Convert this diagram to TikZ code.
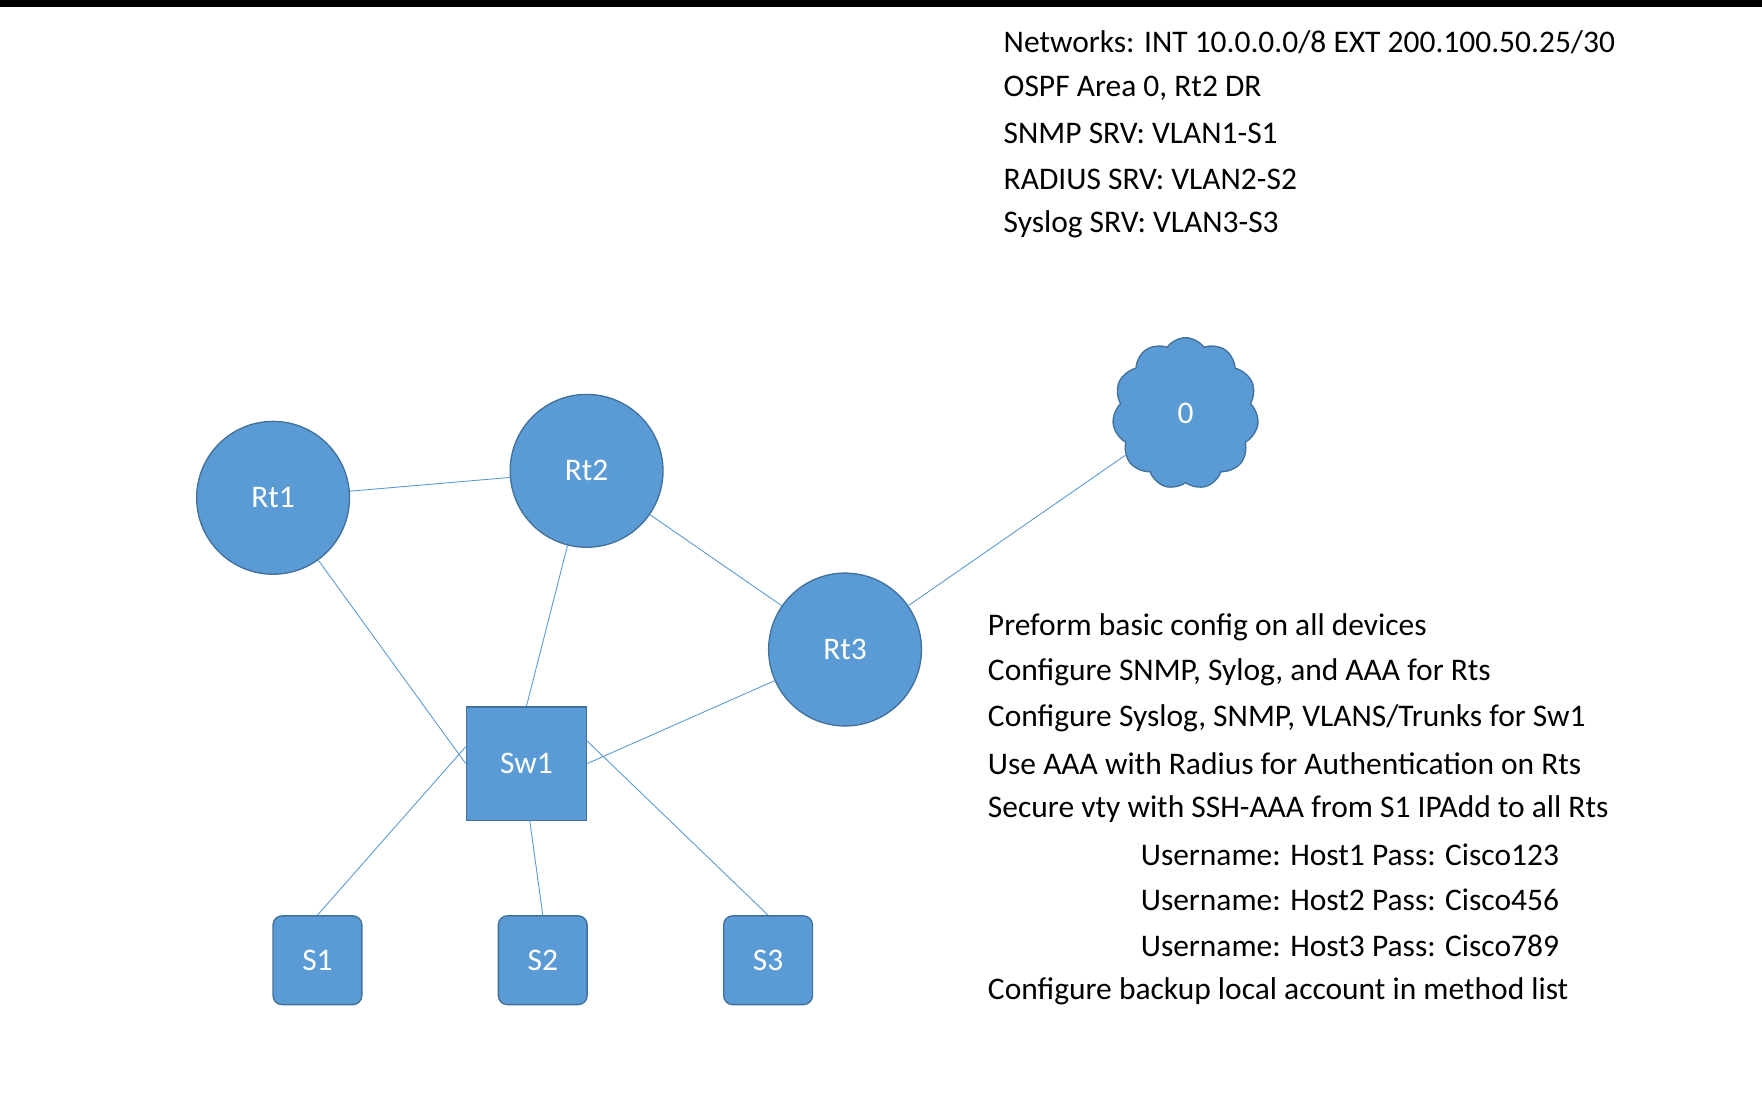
\documentclass[tikz,border=0pt]{standalone}
\usepackage{fontspec}
\setmainfont{Carlito}
\usetikzlibrary{shapes.symbols}
\definecolor{fillb}{HTML}{5B9BD5}
\definecolor{edgeb}{HTML}{41719C}
\begin{document}
\begin{tikzpicture}[x=1pt,y=-1pt,
  dev/.style={fill=fillb,draw=edgeb,line width=1.2pt,text=white,font=\fontsize{28}{30}\selectfont},
  rt/.style={dev,circle,minimum size=136pt,inner sep=0pt},
  srv/.style={dev,rectangle,rounded corners=8pt,minimum size=79pt,inner sep=0pt},
  link/.style={draw=fillb,line width=0.8pt},
  txt/.style={anchor=west,inner sep=0pt,font=\fontsize{28}{30}\selectfont}]
\useasboundingbox (0,0) rectangle (1568,984);
\fill[black] (0,0) rectangle (1568,6);
\node[rt] (rt1) at (243,443) {Rt1};
\node[rt] (rt2) at (522,419) {Rt2};
\node[rt] (rt3) at (752,578) {Rt3};
\node[dev,rectangle,minimum width=107pt,minimum height=101pt,inner sep=0pt] (sw1) at (468.5,679.5) {Sw1};
\node[srv] (s1) at (282.5,854.5) {S1};
\node[srv] (s2) at (483,854.5) {S2};
\node[srv] (s3) at (683.5,854.5) {S3};
\node[dev,cloud,cloud puffs=11,cloud puff arc=110,aspect=1,minimum width=130pt,minimum height=135pt,inner sep=0pt] (cl) at (1055,368) {0};
\draw[link] (rt1) -- (rt2);
\draw[link] (rt1) -- (sw1.west);
\draw[link] (rt2) -- (sw1.north);
\draw[link] (rt2) -- (rt3);
\draw[link] (rt3) -- (sw1.east);
\draw[link] (rt3) -- (cl);
\draw[link] ([yshift=15pt]sw1.west) -- (s1.north);
\draw[link] ([xshift=3pt]sw1.south) -- (s2.north);
\draw[link] ([yshift=20pt]sw1.east) -- (s3.north);
\node[txt] (t1) at (893,38) {Networks: INT 10.0.0.0/8 EXT 200.100.50.25/30};
\node[txt] (t2) at (893,78.5) {OSPF Area 0, Rt2 DR};
\node[txt] (t3) at (893,119) {SNMP SRV: VLAN1-S1};
\node[txt] (t4) at (893,159.5) {RADIUS SRV: VLAN2-S2};
\node[txt] (t5) at (893,200) {Syslog SRV: VLAN3-S3};
\node[txt] (b1) at (879,558) {Preform basic config on all devices};
\node[txt] (b2) at (879,598.5) {Configure SNMP, Sylog, and AAA for Rts};
\node[txt] (b3) at (879,639) {Configure Syslog, SNMP, VLANS/Trunks for Sw1};
\node[txt] (b4) at (879,679.5) {Use AAA with Radius for Authentication on Rts};
\node[txt] (b5) at (879,720) {Secure vty with SSH-AAA from S1 IPAdd to all Rts};
\node[txt] (b6) at (1015,760.5) {Username: Host1 Pass: Cisco123};
\node[txt] (b7) at (1015,801) {Username: Host2 Pass: Cisco456};
\node[txt] (b8) at (1015,841.5) {Username: Host3 Pass: Cisco789};
\node[txt] (b9) at (879,882) {Configure backup local account in method list};
\end{tikzpicture}
\end{document}
